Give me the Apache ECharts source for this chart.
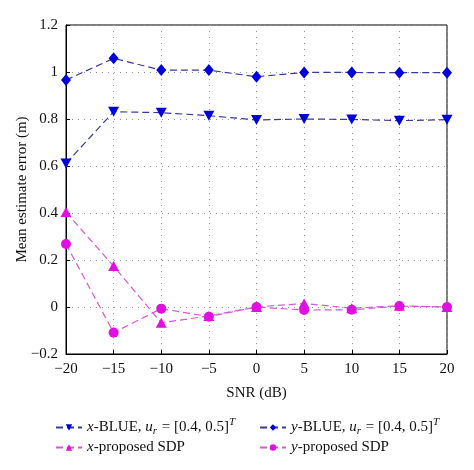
<!DOCTYPE html>
<html>
<head>
<meta charset="utf-8">
<script src="https://cdn.jsdelivr.net/npm/echarts@6/dist/echarts.min.js"></script>
<style>
  html, body { margin: 0; padding: 0; background: #fff; }
  #chart { width: 474px; height: 470px; }
</style>
</head>
<body>
<div id="chart"></div>
<script>
// SNR values (dB) on the x axis
const snr = [-20, -15, -10, -5, 0, 5, 10, 15, 20];

// mean estimate error (m)
const xBlue = [0.611, 0.831, 0.827, 0.814, 0.796, 0.800, 0.798, 0.793, 0.797];
const yBlue = [0.966, 1.058, 1.008, 1.008, 0.980, 0.998, 0.998, 0.997, 0.997];
const xSdp  = [0.404, 0.174, -0.067, -0.038, 0.000, 0.015, -0.005, 0.005, 0.000];
const ySdp  = [0.268, -0.109, -0.007, -0.041, 0.000, -0.013, -0.012, 0.004, 0.000];

const yTicks = [-0.2, 0, 0.2, 0.4, 0.6, 0.8, 1, 1.2];

const serif = "Liberation Serif";
const minus = s => String(s).replace("-", "\u2212");
const triDown = "path://M0,0 L10,0 L5,9 Z";

function pairs(vals) {
    return snr.map((x, i) => [x, vals[i]]);
}

const legendText = {
    "x-BLUE": "{it|x}-BLUE, {it|u}{sub|r} = [0.4, 0.5]{sup|T}",
    "y-BLUE": "{it|y}-BLUE, {it|u}{sub|r} = [0.4, 0.5]{sup|T}",
    "x-SDP": "{it|x}-proposed SDP",
    "y-SDP": "{it|y}-proposed SDP"
};

const legendStyle = {
    fontFamily: serif,
    fontSize: 15,
    color: "#111",
    rich: {
        it: { fontFamily: serif, fontSize: 15, fontStyle: "italic", color: "#111" },
        sub: { fontFamily: serif, fontSize: 11, fontStyle: "italic", color: "#111", padding: [8, 1, 0, 0] },
        sup: { fontFamily: serif, fontSize: 11, fontStyle: "italic", color: "#111", padding: [0, 0, 10, 0] }
    }
};

function line(name, vals, symbol, lineColor, markColor, size) {
    return {
        name: name,
        type: "line",
        data: pairs(vals),
        symbol: symbol,
        symbolSize: size,
        lineStyle: { color: lineColor, width: 1.2, type: [7, 4] },
        itemStyle: { color: markColor },
        emphasis: { disabled: true }
    };
}

let chart = echarts.init(document.getElementById("chart"));
chart.setOption({
    animation: false,
    grid: {
        left: 66, right: 27, top: 25, bottom: 116,
        outerBoundsMode: "none",
        containLabel: false,
        show: true, borderColor: "#000", borderWidth: 1
    },
    legend: [{
        data: ["x-BLUE", "x-SDP"],
        orient: "vertical",
        left: 50, top: 412,
        itemWidth: 26, itemHeight: 8, itemGap: 3,
        formatter: n => legendText[n],
        textStyle: legendStyle
    }, {
        data: ["y-BLUE", "y-SDP"],
        orient: "vertical",
        left: 254, top: 412,
        itemWidth: 26, itemHeight: 8, itemGap: 3,
        formatter: n => legendText[n],
        textStyle: legendStyle
    }],
    xAxis: {
        type: "value",
        min: -20, max: 20, interval: 5,
        name: "SNR (dB)",
        nameLocation: "middle",
        nameGap: 32,
        nameTextStyle: { fontFamily: serif, fontSize: 15, color: "#111" },
        axisLine: { show: true, onZero: false, lineStyle: { color: "#000" } },
        axisTick: { inside: true, length: 4, lineStyle: { color: "#000" } },
        axisLabel: { fontFamily: serif, fontSize: 15, color: "#111", margin: 8, formatter: v => minus(v) },
        splitLine: { show: true, lineStyle: { color: "#999", type: [1, 5] } }
    },
    yAxis: {
        type: "value",
        min: yTicks[0], max: yTicks[yTicks.length - 1], interval: 0.2,
        name: "Mean estimate error (m)",
        nameLocation: "middle",
        nameGap: 44,
        nameMoveOverlap: false,
        nameTextStyle: { fontFamily: serif, fontSize: 15, color: "#111", verticalAlign: "middle" },
        axisLine: { show: true, onZero: false, lineStyle: { color: "#000" } },
        axisTick: { inside: true, length: 4, lineStyle: { color: "#000" } },
        axisLabel: { fontFamily: serif, fontSize: 15, color: "#111", margin: 8, formatter: v => minus(+v.toFixed(1)) },
        splitLine: { show: true, lineStyle: { color: "#999", type: [1, 5] } }
    },
    series: [
        line("x-BLUE", xBlue, triDown, "#3a3a9a", "#0000d8", [11, 10]),
        line("y-BLUE", yBlue, "diamond", "#3a3a9a", "#0000d8", [10, 12]),
        line("x-SDP", xSdp, "triangle", "#d45ad4", "#e010e0", [11, 10]),
        line("y-SDP", ySdp, "circle", "#d45ad4", "#e010e0", 10)
    ]
});
</script>
</body>
</html>
